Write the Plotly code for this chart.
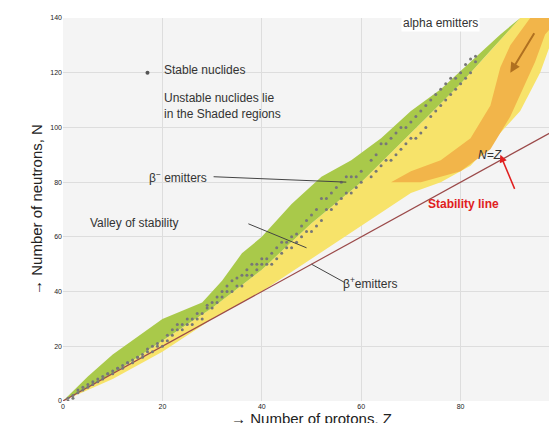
import plotly.graph_objects as go

# Band boundaries (Z, N)
green_upper_Z = [0, 5, 10, 20, 28, 32, 36, 40, 46, 52, 58, 64, 70, 76, 82, 88, 92]
green_upper_N = [0, 9, 17, 30, 36, 44, 54, 60, 72, 82, 88, 96, 106, 114, 124, 134, 140]
valley_Z = [0, 10, 20, 30, 40, 50, 60, 70, 80, 86, 92]
valley_N = [0, 10, 22, 34, 48, 65, 80, 98, 116, 128, 140]
yellow_lower_Z = [0, 10, 20, 30, 40, 50, 60, 70, 76, 82, 86, 92, 96, 100]
yellow_lower_N = [0, 8, 18, 30, 40, 52, 64, 76, 80, 86, 94, 106, 120, 140]
alpha_Z = [66, 72, 80, 86, 90, 93, 95, 97, 100, 94, 90, 88, 86, 82, 76, 70]
alpha_N = [80, 80, 84, 92, 104, 116, 124, 134, 140, 140, 130, 122, 108, 96, 88, 84]
# Stable nuclides (Z, N)
stable_Z = [1,2,3,4,5,6,7,8,9,10,11,12,13,14,15,16,17,18,19,20,21,22,23,24,25,26,27,28,29,30,31,32,33,34,35,36,37,38,39,40,41,42,43,44,45,46,47,48,49,50,51,52,53,54,55,56,57,58,59,60,62,63,64,65,66,67,68,69,70,71,72,73,74,75,76,77,78,79,80,81,82,83]
stable_N = [1,2,4,5,6,6,7,8,10,11,12,13,14,15,16,17,19,20,21,22,24,26,28,28,30,30,32,32,35,36,38,40,42,44,45,46,48,50,50,52,52,54,56,58,58,60,61,64,66,68,70,74,74,76,78,80,82,82,82,84,88,90,94,94,96,98,100,100,102,104,106,108,110,112,114,116,118,118,120,123,125,126]
stable_N_lo = [0,1,3,4,5,7,8,9,10,10,12,12,14,14,16,16,18,18,20,20,22,24,26,26,28,28,30,30,34,34,36,38,40,40,42,42,46,46,48,50,50,50,52,54,56,56,58,60,62,62,64,66,70,70,72,74,76,76,78,80,82,84,86,88,88,90,92,94,96,96,98,100,104,106,108,110,112,114,116,118,120,124]

fig = go.Figure()
fig.add_trace(go.Scatter(x=yellow_lower_Z + valley_Z[::-1], y=yellow_lower_N + valley_N[::-1],
                         mode="lines", fill="toself", fillcolor="#f7e36a", line=dict(width=0), hoverinfo="skip"))
fig.add_trace(go.Scatter(x=valley_Z + green_upper_Z[::-1], y=valley_N + green_upper_N[::-1],
                         mode="lines", fill="toself", fillcolor="#a9c94a", line=dict(width=0), hoverinfo="skip"))
fig.add_trace(go.Scatter(x=alpha_Z, y=alpha_N, mode="lines", fill="toself", fillcolor="#f2b54a",
                         line=dict(width=0), hoverinfo="skip"))
fig.add_trace(go.Scatter(x=[0, 100], y=[0, 100], mode="lines", line=dict(color="#9b4a4a", width=1.2)))
fig.add_trace(go.Scatter(x=stable_Z + stable_Z, y=stable_N + stable_N_lo, mode="markers",
                         marker=dict(size=3, color="#777777")))
fig.add_trace(go.Scatter(x=[17], y=[120], mode="markers", marker=dict(size=4, color="#555")))

fig.update_layout(
    width=557, height=423, showlegend=False, plot_bgcolor="#f4f4f4", paper_bgcolor="white",
    margin=dict(l=55, r=5, t=10, b=30),
    font=dict(family="Arial", color="#222"),
    xaxis=dict(range=[0, 100], tickvals=[0, 20, 40, 60, 80], showgrid=True, gridcolor="#dddddd",
               tickfont=dict(size=7), zeroline=False, showline=False,
               title=dict(text="→ Number of protons, Z", font=dict(size=15), standoff=0)),
    yaxis=dict(range=[0, 140], dtick=20, showgrid=True, gridcolor="#dddddd",
               tickfont=dict(size=7), zeroline=False,
               title=dict(text="→ Number of neutrons, N", font=dict(size=15), standoff=4)),
)
txt = dict(showarrow=False, xanchor="left", font=dict(size=12, color="#333"))
fig.add_annotation(x=20, y=121, text="Stable nuclides", **txt)
fig.add_annotation(x=20, y=108, text="Unstable nuclides lie<br>in the Shaded regions", align="left", **txt)
fig.add_annotation(x=68, y=138, text="alpha emitters", bgcolor="white", **txt)
fig.add_annotation(x=90, y=120, ax=95, ay=135, axref="x", ayref="y", text="", arrowhead=2,
                   arrowcolor="#b07020", arrowwidth=2)
fig.add_annotation(x=57, y=80, ax=30, ay=82, axref="x", ayref="y", text="", showarrow=True,
                   arrowhead=0, arrowcolor="#444", arrowwidth=1)
fig.add_annotation(x=17, y=82, text="β<sup>−</sup> emitters", **txt)
fig.add_annotation(x=49, y=56, ax=37, ay=65, axref="x", ayref="y", text="", showarrow=True,
                   arrowhead=0, arrowcolor="#444", arrowwidth=1)
fig.add_annotation(x=5, y=65, text="Valley of stability", **txt)
fig.add_annotation(x=50, y=50, ax=57, ay=43, axref="x", ayref="y", text="", showarrow=True,
                   arrowhead=0, arrowcolor="#444", arrowwidth=1)
fig.add_annotation(x=56, y=43, text="β<sup>+</sup>emitters", **txt)
fig.add_annotation(x=83, y=90, text="<i>N=Z</i>", **txt)
fig.add_annotation(x=73, y=72, text="<b>Stability line</b>", showarrow=False, xanchor="left",
                   font=dict(size=12, color="#e02020"))
fig.add_annotation(x=88, y=90, ax=91, ay=77, axref="x", ayref="y", text="", arrowhead=2,
                   arrowcolor="#e02020", arrowwidth=1.5)
fig.write_html("out.html")
